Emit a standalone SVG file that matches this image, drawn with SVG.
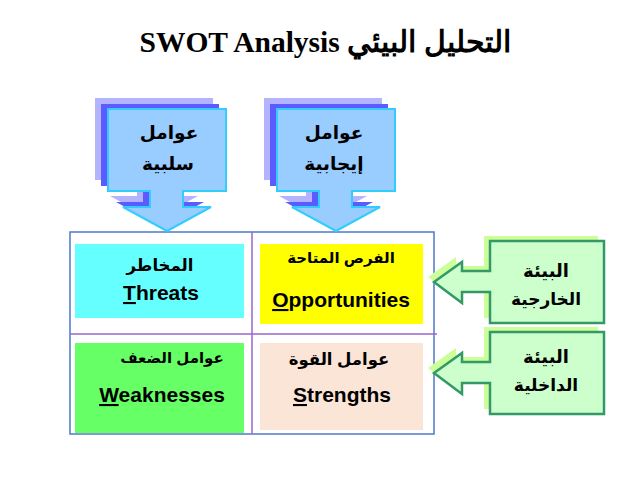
<svg xmlns="http://www.w3.org/2000/svg" width="638" height="478" viewBox="0 0 638 478">
<style>
.t{font-family:"Liberation Sans","DejaVu Sans",sans-serif;font-weight:bold;fill:#000;text-anchor:middle}
.title{font-family:"Liberation Serif","DejaVu Serif",serif;font-weight:bold;font-size:29.5px;text-anchor:middle}
.lav{fill:#b3b3ff}
.blu{fill:#5b5bff}
.dn{fill:#99ccff;stroke:#33ccff;stroke-width:2;stroke-linejoin:miter}
.gsh{fill:#ccff99}
.lf{fill:#ccffcc;stroke:#339966;stroke-width:2.5}
.u{text-decoration:underline}
</style>
<defs>
<path id="down" d="M0,0 H118 V82 H75 V98 H103 L59,122 L15,98 H42 V82 H0 Z"/>
<path id="left" d="M56,0 H170 V82 H56 V51 H28 V62 L0,41 L28,21 V30 H56 Z"/>
</defs>
<rect width="638" height="478" fill="#fff"/>
<text class="title" x="325" y="52">SWOT Analysis التحليل البيئي</text>

<g id="connectors">
<rect x="70" y="232" width="364" height="202" fill="none" stroke="#4f7ac7" stroke-width="1.5"/>
<line x1="252" y1="232" x2="252" y2="434" stroke="#9966cc" stroke-width="1.5"/>
<line x1="70" y1="334" x2="437" y2="334" stroke="#9966cc" stroke-width="1.5"/>
</g>

<g id="neg-arrow">
<use href="#down" class="lav" x="95" y="98"/>
<use href="#down" class="blu" x="101" y="104"/>
<use href="#down" class="dn" x="108" y="109"/>
<text class="t" x="169" y="139" font-size="18.5">عوامل</text>
<text class="t" x="168" y="170" font-size="18.5">سلبية</text>
</g>

<g id="pos-arrow">
<use href="#down" class="lav" x="264" y="98"/>
<use href="#down" class="blu" x="270" y="104"/>
<use href="#down" class="dn" x="277" y="109"/>
<text class="t" x="334" y="139" font-size="18.5">عوامل</text>
<text class="t" x="334" y="170" font-size="18.5">إيجابية</text>
</g>

<g id="threats">
<rect x="75" y="244" width="169" height="74" fill="#66ffff"/>
<text class="t" x="160" y="271" font-size="16.5">المخاطر</text>
<text class="t" x="161" y="300" font-size="21"><tspan class="u">T</tspan>hreats</text>
</g>

<g id="opportunities">
<rect x="260" y="244" width="163" height="80" fill="#ffff00"/>
<text class="t" x="341" y="263" font-size="15">الفرص المتاحة</text>
<text class="t" x="341" y="307" font-size="21"><tspan class="u">O</tspan>pportunities</text>
</g>

<g id="weaknesses">
<rect x="75" y="343" width="169" height="90" fill="#66ff66"/>
<text class="t" x="172" y="363" font-size="15">عوامل الضعف</text>
<text class="t" x="162" y="402" font-size="21"><tspan class="u">W</tspan>eaknesses</text>
</g>

<g id="strengths">
<rect x="260" y="343" width="163" height="87" fill="#fbe5d6"/>
<text class="t" x="339" y="365" font-size="16.5">عوامل القوة</text>
<text class="t" x="342" y="402" font-size="21"><tspan class="u">S</tspan>trengths</text>
</g>

<g id="external">
<use href="#left" class="gsh" x="428" y="236"/>
<use href="#left" class="lf" x="434" y="241"/>
<text class="t" x="546" y="277" font-size="18">البيئة</text>
<text class="t" x="546" y="305" font-size="17">الخارجية</text>
</g>

<g id="internal">
<use href="#left" class="gsh" x="428" y="327"/>
<use href="#left" class="lf" x="434" y="332"/>
<text class="t" x="546" y="363" font-size="18">البيئة</text>
<text class="t" x="546" y="391" font-size="17">الداخلية</text>
</g>
</svg>
